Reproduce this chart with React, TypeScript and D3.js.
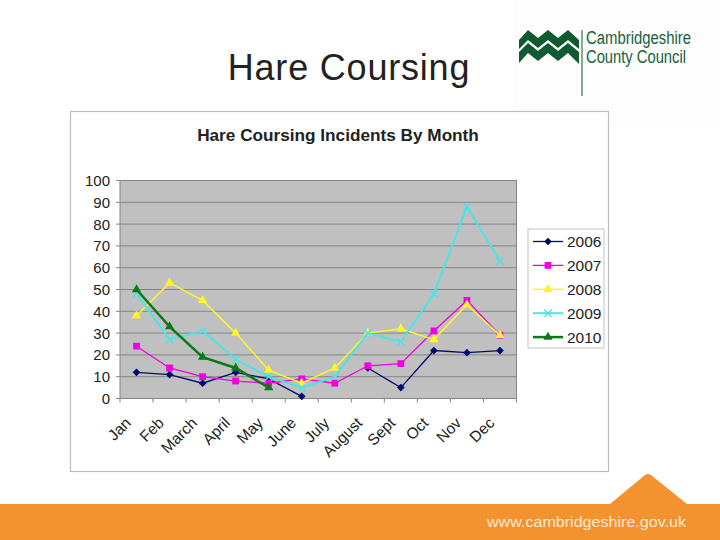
import React from "react";
import * as d3 from "d3";

const months = ["Jan", "Feb", "March", "April", "May", "June", "July", "August", "Sept", "Oct", "Nov", "Dec"];
const yTicks = [0, 10, 20, 30, 40, 50, 60, 70, 80, 90, 100];

const v2006 = [12, 11, 7, 12, 9, 1, null, 14, 5, 22, 21, 22];
const v2007 = [24, 14, 10, 8, 7, 9, 7, 15, 16, 31, 45, 29];
const v2008 = [38, 53, 45, 30, 13, 7, 14, 30, 32, 27, 43, 29];
const v2009 = [48, 27, 31, 18, 10, 5, 10, 30, 26, 48, 88, 63];
const v2010 = [50, 33, 19, 14, 5, null, null, null, null, null, null, null];

const series = [
  { name: "2006", values: v2006, color: "#000b6e", marker: "diamond", width: 1.3 },
  { name: "2007", values: v2007, color: "#f000e0", marker: "square", width: 1.3 },
  { name: "2008", values: v2008, color: "#fdf52c", marker: "triangle", width: 1.5 },
  { name: "2009", values: v2009, color: "#4fe3e3", marker: "x", width: 2 },
  { name: "2010", values: v2010, color: "#0b7a16", marker: "triangle", width: 2.5 },
];

const font = "'Liberation Sans', Arial, sans-serif";

const x = d3.scaleBand<string>().domain(months).range([120, 516.5]);
const y = d3.scaleLinear().domain([0, 100]).range([398.5, 180.5]);

function Marker({ kind, cx, cy, color }: { kind: string; cx: number; cy: number; color: string }) {
  if (kind === "x") {
    const r = 3.8;
    return (
      <path
        d={`M${cx - r},${cy - r}L${cx + r},${cy + r}M${cx - r},${cy + r}L${cx + r},${cy - r}`}
        stroke={color}
        strokeWidth={1.4}
        fill="none"
      />
    );
  }
  const sym = kind === "diamond" ? d3.symbolDiamond2 : kind === "square" ? d3.symbolSquare2 : d3.symbolTriangle2;
  const size = kind === "diamond" ? 38 : kind === "square" ? 58 : 62;
  return <path d={d3.symbol().type(sym).size(size)() as string} transform={`translate(${cx},${cy})`} fill={color} />;
}

export default function App() {
  const line = d3
    .line<number | null>()
    .defined((d) => d !== null)
    .x((_, i) => (x(months[i]) as number) + x.bandwidth() / 2)
    .y((d) => y(d as number));

  return (
    <svg width={720} height={540} style={{ position: "absolute", left: 0, top: 0, background: "#fff" }} fontFamily={font}>
      <text x={349} y={80} fontSize={36} textAnchor="middle" fill="#222" letterSpacing={0.8}>
        Hare Coursing
      </text>

      {/* logo */}
      <rect x={514} y={0} width={206} height={128} fill="#fdfdfd" />
      <g fill="#0f5a30">
        <path d="M519,40L528,30L538,38L548,30L558,38L568,30L579,40L579,49L568,40L558,48L548,40L538,48L528,40L519,49Z" />
        <path d="M519,52L528,43L538,51L548,43L558,51L568,43L579,52L579,64L568,53L558,61L548,53L538,61L528,53L519,63Z" />
      </g>
      <line x1={582} y1={30} x2={582} y2={96} stroke="#0f5a30" strokeWidth={1} />
      <text x={586} y={44} fontSize={18} fill="#16613a" textLength={105} lengthAdjust="spacingAndGlyphs">
        Cambridgeshire
      </text>
      <text x={586} y={63} fontSize={18} fill="#16613a" textLength={100} lengthAdjust="spacingAndGlyphs">
        County Council
      </text>

      {/* chart frame */}
      <rect x={70.5} y={111.5} width={538} height={360} fill="#fff" stroke="#bdbdbd" strokeWidth={1.2} />
      <text x={338} y={141} fontSize={17.2} fontWeight="bold" textAnchor="middle" fill="#222">
        Hare Coursing Incidents By Month
      </text>

      {/* plot */}
      <rect x={120} y={180.5} width={396.5} height={218} fill="#c0c0c0" stroke="#858585" strokeWidth={1} />
      {yTicks.map((t) => (
        <g key={t}>
          <line x1={120} x2={516.5} y1={y(t)} y2={y(t)} stroke="#858585" strokeWidth={1} />
          <line x1={116} x2={120} y1={y(t)} y2={y(t)} stroke="#858585" strokeWidth={1} />
          <text x={110} y={y(t) + 5.5} fontSize={15} textAnchor="end" fill="#222">
            {t}
          </text>
        </g>
      ))}
      {months.map((m, i) => {
        const bx = x(m) as number;
        const cx = bx + x.bandwidth() / 2;
        return (
          <g key={m}>
            <line x1={bx} x2={bx} y1={398.5} y2={402.5} stroke="#858585" strokeWidth={1} />
            {i === months.length - 1 && (
              <line x1={bx + x.bandwidth()} x2={bx + x.bandwidth()} y1={398.5} y2={402.5} stroke="#858585" strokeWidth={1} />
            )}
            <text
              transform={`translate(${cx - 7.5},${421}) rotate(-45)`}
              fontSize={15.5}
              textAnchor="end"
              dominantBaseline="middle"
              fill="#222"
            >
              {m}
            </text>
          </g>
        );
      })}

      {/* series */}
      {series.map((s) => (
        <g key={s.name}>
          <path d={line(s.values) as string} fill="none" stroke={s.color} strokeWidth={s.width} />
          {s.values.map((v, i) =>
            v === null ? null : (
              <Marker
                key={i}
                kind={s.marker}
                cx={(x(months[i]) as number) + x.bandwidth() / 2}
                cy={y(v)}
                color={s.color}
              />
            )
          )}
        </g>
      ))}

      {/* legend */}
      <rect x={528} y={229} width={76} height={119} fill="#fff" stroke="#c4c4c4" strokeWidth={1} />
      {series.map((s, i) => {
        const ly = 241.5 + i * 23.9;
        return (
          <g key={s.name}>
            <line x1={533} x2={563} y1={ly} y2={ly} stroke={s.color} strokeWidth={s.width} />
            <Marker kind={s.marker} cx={548} cy={ly} color={s.color} />
            <text x={567} y={ly + 5.5} fontSize={15.5} fill="#222">
              {s.name}
            </text>
          </g>
        );
      })}

      {/* footer */}
      <path d="M610,504L645,475Q648,473 651,475L687,504Z" fill="#f29330" />
      <rect x={0} y={504} width={720} height={36} fill="#f29330" />
      <text x={487} y={527} fontSize={15.5} fill="#fde9d2" textLength={199} lengthAdjust="spacingAndGlyphs">
        www.cambridgeshire.gov.uk
      </text>
    </svg>
  );
}
